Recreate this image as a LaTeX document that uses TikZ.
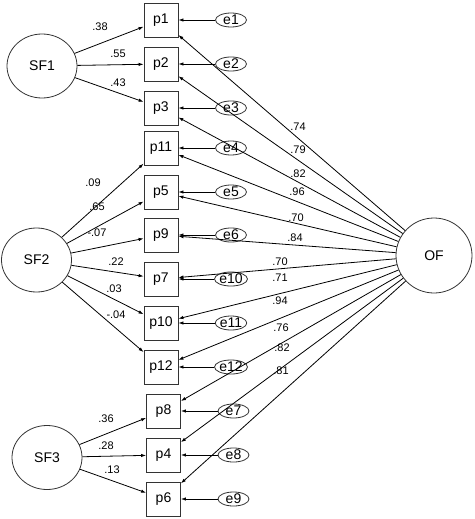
\documentclass[tikz,border=0pt]{standalone}
\usepackage{fontspec}
\setmainfont{Liberation Sans}
\usetikzlibrary{arrows.meta,shapes.geometric}

\begin{document}
\begin{tikzpicture}[x=1pt,y=-1pt,
  item/.style={draw=black!80,line width=.8pt,minimum size=34pt,inner sep=0pt,
    font=\fontsize{14}{15}\selectfont},
  err/.style={draw=black!80,ellipse,line width=.8pt,minimum width=31pt,minimum height=14pt,
    inner sep=0pt,font=\fontsize{14}{15}\selectfont},
  factor/.style={draw=black!80,ellipse,line width=.8pt,minimum width=70pt,minimum height=64pt,
    font=\fontsize{14}{15}\selectfont},
  load/.style={line width=.8pt,-{Latex[length=5pt,width=3.4pt]}},
  coef/.style={inner sep=0pt,font=\fontsize{11}{12}\selectfont}]
  \useasboundingbox (0,0) rectangle (474,519);
  % items with their error terms
  \foreach \n/\e/\x/\y in {1/1/161/20,2/2/161/64,3/3/161/108,11/4/161/148,5/5/161/192,
    9/6/161/235,7/10/161/279,10/11/161/323,12/12/161/367,8/7/163.5/411,4/8/163.5/455,6/9/163.5/499} {
    \node[item] (p\n) at (\x,\y) {p\n};
    \node[err] (e\e) at (\x+70,\y) {e\e};
    \draw[load] (e\e) -- (p\n);
  }
  \node[factor] (SF1) at (42,66) {SF1};
  \node[factor] (SF2) at (36.5,260) {SF2};
  \node[factor] (SF3) at (47,457.5) {SF3};
  \node[factor,minimum width=76pt,minimum height=75pt] (OF) at (434,255.5) {OF};
  \foreach \f/\n in {SF1/1,SF1/2,SF1/3,SF2/11,SF2/5,SF2/9,SF2/7,SF2/10,SF2/12,SF3/8,SF3/4,SF3/6}
    \draw[load] (\f) -- (p\n);
  \foreach \n in {1,2,3,11,5,9,7,10,12,8,4,6}
    \draw[load] (OF) -- (p\n);
  % loadings
  \foreach \val/\x/\y [count=\i] in {.38/100/27,.55/118/54,.43/118/83,
    .09/93/183,.65/97/207,-.07/97/233,.22/116/262,.03/114/289,-.04/116/315,
    .36/106/419,.28/106/446,.13/112/470,
    .74/298/127,.79/298/150,.82/298/174,.96/297/192,.70/296/218,.84/295/238,
    .70/280/262,.71/280/278,.94/280/301,.76/281/328,.82/282/348,.81/281/371}
    \node[coef] (w\i) at (\x,\y) {\val};
\end{tikzpicture}
\end{document}
